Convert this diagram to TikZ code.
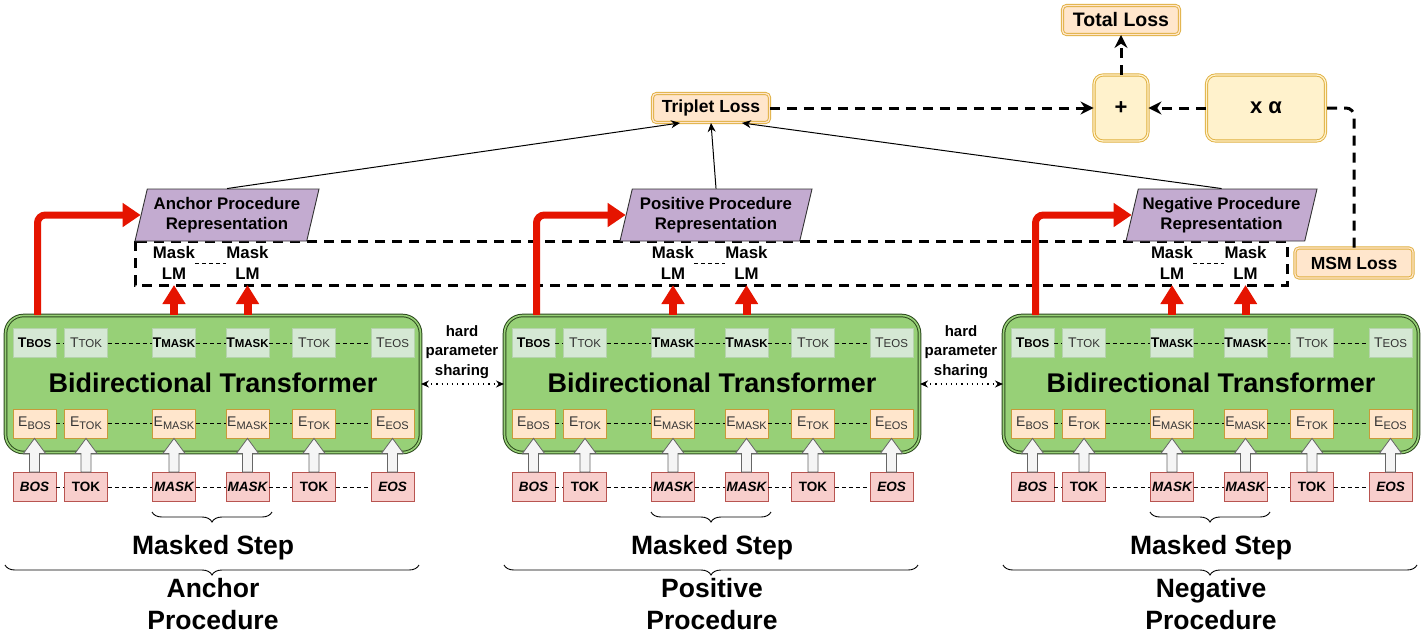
\documentclass[tikz,border=0pt]{standalone}
\usepackage{fontspec}
\setmainfont{Liberation Sans}
\usetikzlibrary{arrows.meta,calc,shapes.geometric,decorations.pathreplacing}

\definecolor{blkfill}{HTML}{97D077}
\definecolor{blkdraw}{HTML}{2D4A1E}
\definecolor{tfill}{HTML}{D5E8D4}
\definecolor{tdraw}{HTML}{B5D3AC}
\definecolor{efill}{HTML}{FFE6CC}
\definecolor{edraw}{HTML}{C89A3A}
\definecolor{ifill}{HTML}{F8CECC}
\definecolor{idraw}{HTML}{B85450}
\definecolor{pfill}{HTML}{C3ABD0}
\definecolor{redc}{HTML}{E51400}
\definecolor{lossfill}{HTML}{FFE6CC}
\definecolor{lossdraw}{HTML}{E0B040}
\definecolor{opfill}{HTML}{FFF2CC}
\definecolor{arrfill}{HTML}{F5F5F5}
\definecolor{arrdraw}{HTML}{666666}

\newcommand\Tlab[1]{{\fontsize{14}{15}\selectfont T\fontsize{11.5}{12}\selectfont #1}}
\newcommand\Elab[1]{{\fontsize{14}{15}\selectfont E\raisebox{-3pt}{\fontsize{11}{12}\selectfont #1}}}
\newcommand\fatup[2]{\path[fatarr] let \p1=(#1.north), \p2=(#2.south) in
  (\x1-5pt,\y1) -- (\x1-5pt,\y2-15pt) -- (\x1-11pt,\y2-15pt) -- (\x1,\y2) --
  (\x1+11pt,\y2-15pt) -- (\x1+5pt,\y2-15pt) -- (\x1+5pt,\y1) -- cycle;}

\tikzset{
  tok/.style={draw, line width=0.8pt, minimum width=43pt, minimum height=29pt, inner sep=0pt},
  tbox/.style={tok, fill=tfill, draw=tdraw},
  ebox/.style={tok, fill=efill, draw=edraw, text=black!80},
  ibox/.style={tok, fill=ifill, draw=idraw, font=\fontsize{13.5}{15}\selectfont\bfseries},
  block/.style={draw=blkdraw, fill=blkfill, rounded corners=18pt, line width=1pt,
    double=blkfill, double distance=1.6pt, minimum width=415pt, minimum height=137pt},
  titletext/.style={font=\fontsize{27}{30}\selectfont\bfseries},
  bigtext/.style={font=\fontsize{26.5}{32}\selectfont\bfseries, align=center},
  rowdash/.style={line width=0.8pt, dash pattern=on 4pt off 3pt},
  fatarr/.style={fill=arrfill, draw=arrdraw, line width=0.8pt},
  redarr/.style={draw=redc, line width=7pt, -{Triangle[width=23pt,length=18pt]}},
  redup/.style={draw=redc, line width=8pt, -{Triangle[width=22pt,length=19pt]}},
  bracestyle/.style={decorate, decoration={brace, amplitude=10pt, mirror}, line width=0.9pt},
  para/.style={trapezium, trapezium left angle=73, trapezium right angle=107,
    trapezium stretches body, draw=black!80, fill=pfill, line width=0.9pt,
    minimum height=52pt, inner xsep=0pt, inner ysep=2pt, align=center,
    font=\fontsize{16.8}{20.5}\selectfont\bfseries},
  masklm/.style={align=center, inner sep=0pt, font=\fontsize{16.8}{21}\selectfont\bfseries},
  hardps/.style={align=center, font=\fontsize{15}{19.5}\selectfont\bfseries},
  dotarr/.style={line width=1.2pt, dash pattern=on 1.2pt off 4pt,
    {Stealth[length=8pt,width=7pt]}-{Stealth[length=8pt,width=7pt]}},
  lossbox/.style={draw=lossdraw, fill=lossfill, double=lossfill, line width=0.9pt,
    double distance=1.3pt, rounded corners=4pt, minimum height=29pt, inner xsep=4pt,
    font=\fontsize{17.5}{20}\selectfont\bfseries},
  opbox/.style={lossbox, fill=opfill, double=opfill, rounded corners=9pt,
    minimum height=66pt, font=\fontsize{22}{24}\selectfont\bfseries},
  thickdash/.style={line width=3pt, dash pattern=on 10pt off 7pt},
  thickarr/.style={thickdash, -{Stealth[length=13pt,width=13pt]}},
  thinarr/.style={line width=1pt, -{Stealth[length=9pt,width=8pt]}}
}

\newcommand\procblock[3]{%
\begin{scope}[xshift=#2pt]
  \node[block] (#1blk) at (213,384) {};
  \node[titletext] (#1title) at (213,383) {Bidirectional Transformer};
  \node[tbox,font=\bfseries] (#1t1) at (34.5,343) {\Tlab{BOS}};
  \node[tbox,text=black!80] (#1t2) at (86,343) {\Tlab{TOK}};
  \node[tbox,font=\bfseries] (#1t3) at (174,343) {\Tlab{MASK}};
  \node[tbox,font=\bfseries] (#1t4) at (247.5,343) {\Tlab{MASK}};
  \node[tbox,text=black!80] (#1t5) at (314,343) {\Tlab{TOK}};
  \node[tbox,text=black!80] (#1t6) at (392.5,343) {\Tlab{EOS}};
  \node[ebox] (#1e1) at (34.5,423.5) {\Elab{BOS}};
  \node[ebox] (#1e2) at (86,423.5) {\Elab{TOK}};
  \node[ebox] (#1e3) at (174,423.5) {\Elab{MASK}};
  \node[ebox] (#1e4) at (247.5,423.5) {\Elab{MASK}};
  \node[ebox] (#1e5) at (314,423.5) {\Elab{TOK}};
  \node[ebox] (#1e6) at (392.5,423.5) {\Elab{EOS}};
  \node[ibox] (#1i1) at (34.5,487) {\itshape BOS};
  \node[ibox] (#1i2) at (86,487) {TOK};
  \node[ibox] (#1i3) at (174,487) {\itshape MASK};
  \node[ibox] (#1i4) at (247.5,487) {\itshape MASK};
  \node[ibox] (#1i5) at (314,487) {TOK};
  \node[ibox] (#1i6) at (392.5,487) {\itshape EOS};
  \foreach \r in {t,e,i}{\foreach \k/\l in {1/2,2/3,3/4,4/5,5/6}{\draw[rowdash] (#1\r\k.east) -- (#1\r\l.west);}}
  \foreach \k in {1,...,6}{\fatup{#1i\k}{#1e\k}}
  \node[masklm] (#1m1) at (174,263) {Mask\\LM};
  \node[masklm] (#1m2) at (247.5,263) {Mask\\LM};
  \draw[rowdash, line width=0.6pt] (#1m1.east) -- (#1m2.west);
  \draw[redup] (#1t3 |- #1blk.north) -- (#1t3 |- dbr);
  \draw[redup] (#1t4 |- #1blk.north) -- (#1t4 |- dbr);
  \draw[redarr, rounded corners=8pt] ([xshift=3pt]#1t1 |- #1blk.north) |- (#1para.west);
  \draw[bracestyle] (152,512) -- (272,512);
  \node[bigtext] (#1ms) at (213,548) {Masked Step};
  \draw[bracestyle] (5,565) -- (419,565);
  \node[bigtext] (#1name) at (213,604) {#3\\Procedure};
\end{scope}}

\begin{document}
\begin{tikzpicture}[x=1pt,y=-1pt]
\fill[white] (0,0) rectangle (1423,641);
\useasboundingbox (0,0) rectangle (1423,641);

\coordinate (dtl) at (135,241);
\coordinate (dbr) at (1287,285);
\draw[thickdash] (dtl) rectangle (dbr);

\node[para, minimum width=184pt] (apara) at (227,215) {Anchor Procedure\\Representation};
\node[para, minimum width=192pt] (ppara) at (716,215) {Positive Procedure\\Representation};
\node[para, minimum width=191pt] (npara) at (1221.5,215) {Negative Procedure\\Representation};

\procblock{a}{0}{Anchor}
\procblock{p}{499}{Positive}
\procblock{n}{998}{Negative}

\node[hardps] (hps1) at (462,352) {hard\\parameter\\sharing};
\node[hardps] (hps2) at (961,352) {hard\\parameter\\sharing};
\draw[dotarr] (ablk.east) -- (pblk.west);
\draw[dotarr] (pblk.east) -- (nblk.west);

\node[lossbox, minimum width=117pt] (trip) at (711,108) {Triplet Loss};
\node[lossbox, minimum width=117pt, font=\fontsize{19.5}{22}\selectfont\bfseries] (total) at (1121,20) {Total Loss};
\node[lossbox, minimum width=118pt, minimum height=30pt] (msm) at (1354,263) {MSM Loss};
\node[opbox, minimum width=54pt] (plus) at (1121,108) {+};
\node[opbox, minimum width=119pt] (xa) at (1266,108) {x α};

\draw[thinarr] (apara.north) -- ($(trip.south)+(-31,0)$);
\draw[thinarr] (ppara.north) -- (trip.south);
\draw[thinarr] (npara.north) -- ($(trip.south)+(31,0)$);

\draw[thickarr] (trip.east) -- (plus.west);
\draw[thickarr] (xa.west) -- (plus.east);
\draw[thickarr] (plus.north) -- (total.south);
\draw[thickdash, rounded corners=8pt] (msm.north) |- (xa.east);
\end{tikzpicture}
\end{document}
